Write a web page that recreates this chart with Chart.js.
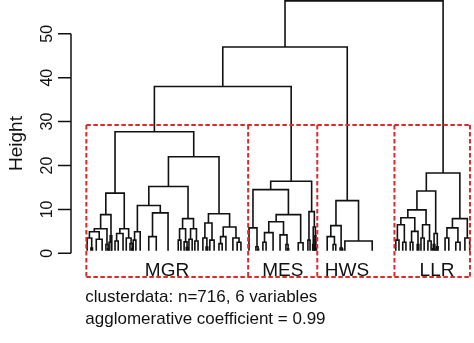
<!DOCTYPE html>
<html>
<head>
<meta charset="utf-8">
<script src="https://cdn.jsdelivr.net/npm/chart.js@4.4.1/dist/chart.umd.min.js"></script>
<style>
html, body { margin: 0; padding: 0; background: #fff; }
#wrap { width: 474px; height: 343px; }
</style>
</head>
<body>
<div id="wrap"><canvas id="dendro"></canvas></div>
<script>
// merge tree. node = [height, left, right], a plain number = leaf index (1..716)
const mgrTree = [27.7,
  [13.7,
    [8.8,
      [5.6, [4.9, [3.5, 2, [1.2, 9, 12]], [3.2, 19, 30]], [2.0, 37, [1.0, 40, 42]]],
      [4.0, [2.5, 43, 47], 48]],
    [5.6,
      [4.5, [2.8, 54, 60], 69],
      [3.5, 75, [2.2, 82, [1.1, 85, 87]]]]],
  [22.0,
    [15.2,
      [10.9, [4.9, [3.0, 88, 93], 101], [9.2, [3.8, 117, 131], 153]],
      [7.9,
        [5.6, [3.0, 172, 177], [2.6, 183, [1.3, 187, 190]]],
        [5.6, [3.2, 192, 198], [2.8, 203, 209]]]],
    [9.0,
      [6.9, [3.5, 218, [1.4, 224, 227]], [3.0, 231, 239]],
      [6.0, [3.8, [2.2, 248, 254], 261], [3.5, 274, [2.5, 282, 289]]]]]];

const mesTree = [16.4,
  [14.5,
    [5.8, 304, [1.5, 317, [0.9, 320, 322]]],
    [8.8,
      [7.2, [4.7, [2.5, 330, 336], 349], [4.2, 362, [2.0, 373, [1.0, 376, 378]]]],
      [2.4, 396, 405]]],
  [9.5, [3.0, 414, 418], [6.0, [2.0, 423, [1.0, 424, 426]], [4.0, 427, [1.2, 428, 430]]]]];

const hwsTree = [12.0,
  [6.3, [3.8, 450, [2.0, 461, 466]], [1.2, 474, [0.9, 477, 479]]],
  [2.8, 483, 534]];

const llrTree = [18.3,
  [14.2,
    [9.9,
      [8.1, [6.5, [3.0, 578, 584], [2.5, 591, 597]], [5.0, [2.5, 605, 610], [2.0, 618, 621]]],
      [6.5, [3.5, 625, 631], [2.8, 638, 644]]],
    [4.5, [2.0, [1.0, 647, 649], 651], [1.5, [0.9, 653, 655], 657]]],
  [7.9,
    [5.8, [3.5, 670, 677], [2.5, 690, 698]],
    [3.5, 707, 716]]];

// the three top merges: root, (MGR+MES)+HWS, MGR+MES
const upperHeights = [57.5, 47, 38];
const leafBottom = 0.6;

const clusterNames = ['MGR', 'MES', 'HWS', 'LLR'];
const clusterSizes = [302, 129, 144, 141];
const clusterLabelAt = [151, 367, 487, 655];
const cutHeight = 29.2;

const yTicks = [0, 10, 20, 30, 40, 50];
const infoLines = ['clusterdata: n=716, 6 variables', 'agglomerative coefficient = 0.99'];

const fullTree = [upperHeights[0],
  [upperHeights[1], [upperHeights[2], mgrTree, mesTree], hwsTree],
  llrTree];

// walk the tree, one polyline per merge
const segments = [];
function walk(node) {
  if (typeof node === 'number') return { x: node, top: leafBottom };
  const l = walk(node[1]);
  const r = walk(node[2]);
  segments.push([
    { x: l.x, y: l.top }, { x: l.x, y: node[0] },
    { x: r.x, y: node[0] }, { x: r.x, y: r.top }
  ]);
  return { x: (l.x + r.x) / 2, top: node[0] };
}
walk(fullTree);

// box edges between clusters, as in rect.hclust
const edges = [0.5];
let cum = 0;
clusterSizes.forEach(n => { cum += n; edges.push(cum + 0.5); });
const yMin = -5.4, yMax = 57.7;

const datasets = segments.map(pts => ({
  data: pts, showLine: true, pointRadius: 0, borderColor: '#111',
  borderWidth: 1.6, clip: false, order: 1
}));
const red = '#e02a2a';
const boxLine = pts => ({
  data: pts, showLine: true, pointRadius: 0, borderColor: red,
  borderWidth: 2, borderDash: [4.5, 2.5], clip: false, order: 0
});
datasets.push(boxLine([{ x: edges[0], y: cutHeight }, { x: edges[edges.length - 1], y: cutHeight }]));
datasets.push(boxLine([{ x: edges[0], y: yMin }, { x: edges[edges.length - 1], y: yMin }]));
edges.forEach(e => datasets.push(boxLine([{ x: e, y: cutHeight }, { x: e, y: yMin }])));

const font = '"Liberation Sans", Arial, Helvetica, sans-serif';

const extras = {
  id: 'extras',
  afterDraw(chart) {
    const { ctx, chartArea, scales } = chart;
    const y = scales.y, x = scales.x;
    const ax = chartArea.left + 1;
    ctx.save();
    ctx.strokeStyle = '#111';
    ctx.lineWidth = 1.5;
    ctx.beginPath();
    ctx.moveTo(ax, y.getPixelForValue(yTicks[0]));
    ctx.lineTo(ax, y.getPixelForValue(yTicks[yTicks.length - 1]));
    yTicks.forEach(t => {
      const py = y.getPixelForValue(t);
      ctx.moveTo(ax, py);
      ctx.lineTo(ax - 13, py);
    });
    ctx.stroke();

    ctx.fillStyle = '#111';
    ctx.textAlign = 'center';
    ctx.textBaseline = 'alphabetic';
    ctx.font = '16px ' + font;
    yTicks.forEach(t => {
      ctx.save();
      ctx.translate(ax - 19, y.getPixelForValue(t));
      ctx.rotate(-Math.PI / 2);
      ctx.fillText(String(t), 0, 0);
      ctx.restore();
    });

    ctx.font = '19px ' + font;
    ctx.save();
    ctx.translate(22, y.getPixelForValue(25));
    ctx.rotate(-Math.PI / 2);
    ctx.fillText('Height', 0, 0);
    ctx.restore();

    clusterNames.forEach((name, i) => {
      ctx.fillText(name, x.getPixelForValue(clusterLabelAt[i]), chartArea.bottom - 1);
    });

    ctx.font = '17px ' + font;
    ctx.textAlign = 'left';
    infoLines.forEach((line, i) => {
      ctx.fillText(line, x.getPixelForValue(edges[0]) - 1, chartArea.bottom + 25 + i * 22);
    });
    ctx.restore();
  }
};

new Chart(document.getElementById('dendro'), {
  type: 'scatter',
  data: { datasets: datasets },
  options: {
    responsive: true,
    maintainAspectRatio: false,
    animation: false,
    layout: { padding: { left: 70, right: 0, top: 0, bottom: 66 } },
    plugins: { legend: { display: false }, tooltip: { enabled: false } },
    scales: {
      x: { type: 'linear', min: -30, max: 724, display: false },
      y: { min: yMin, max: yMax, display: false }
    }
  },
  plugins: [extras]
});
</script>
</body>
</html>
